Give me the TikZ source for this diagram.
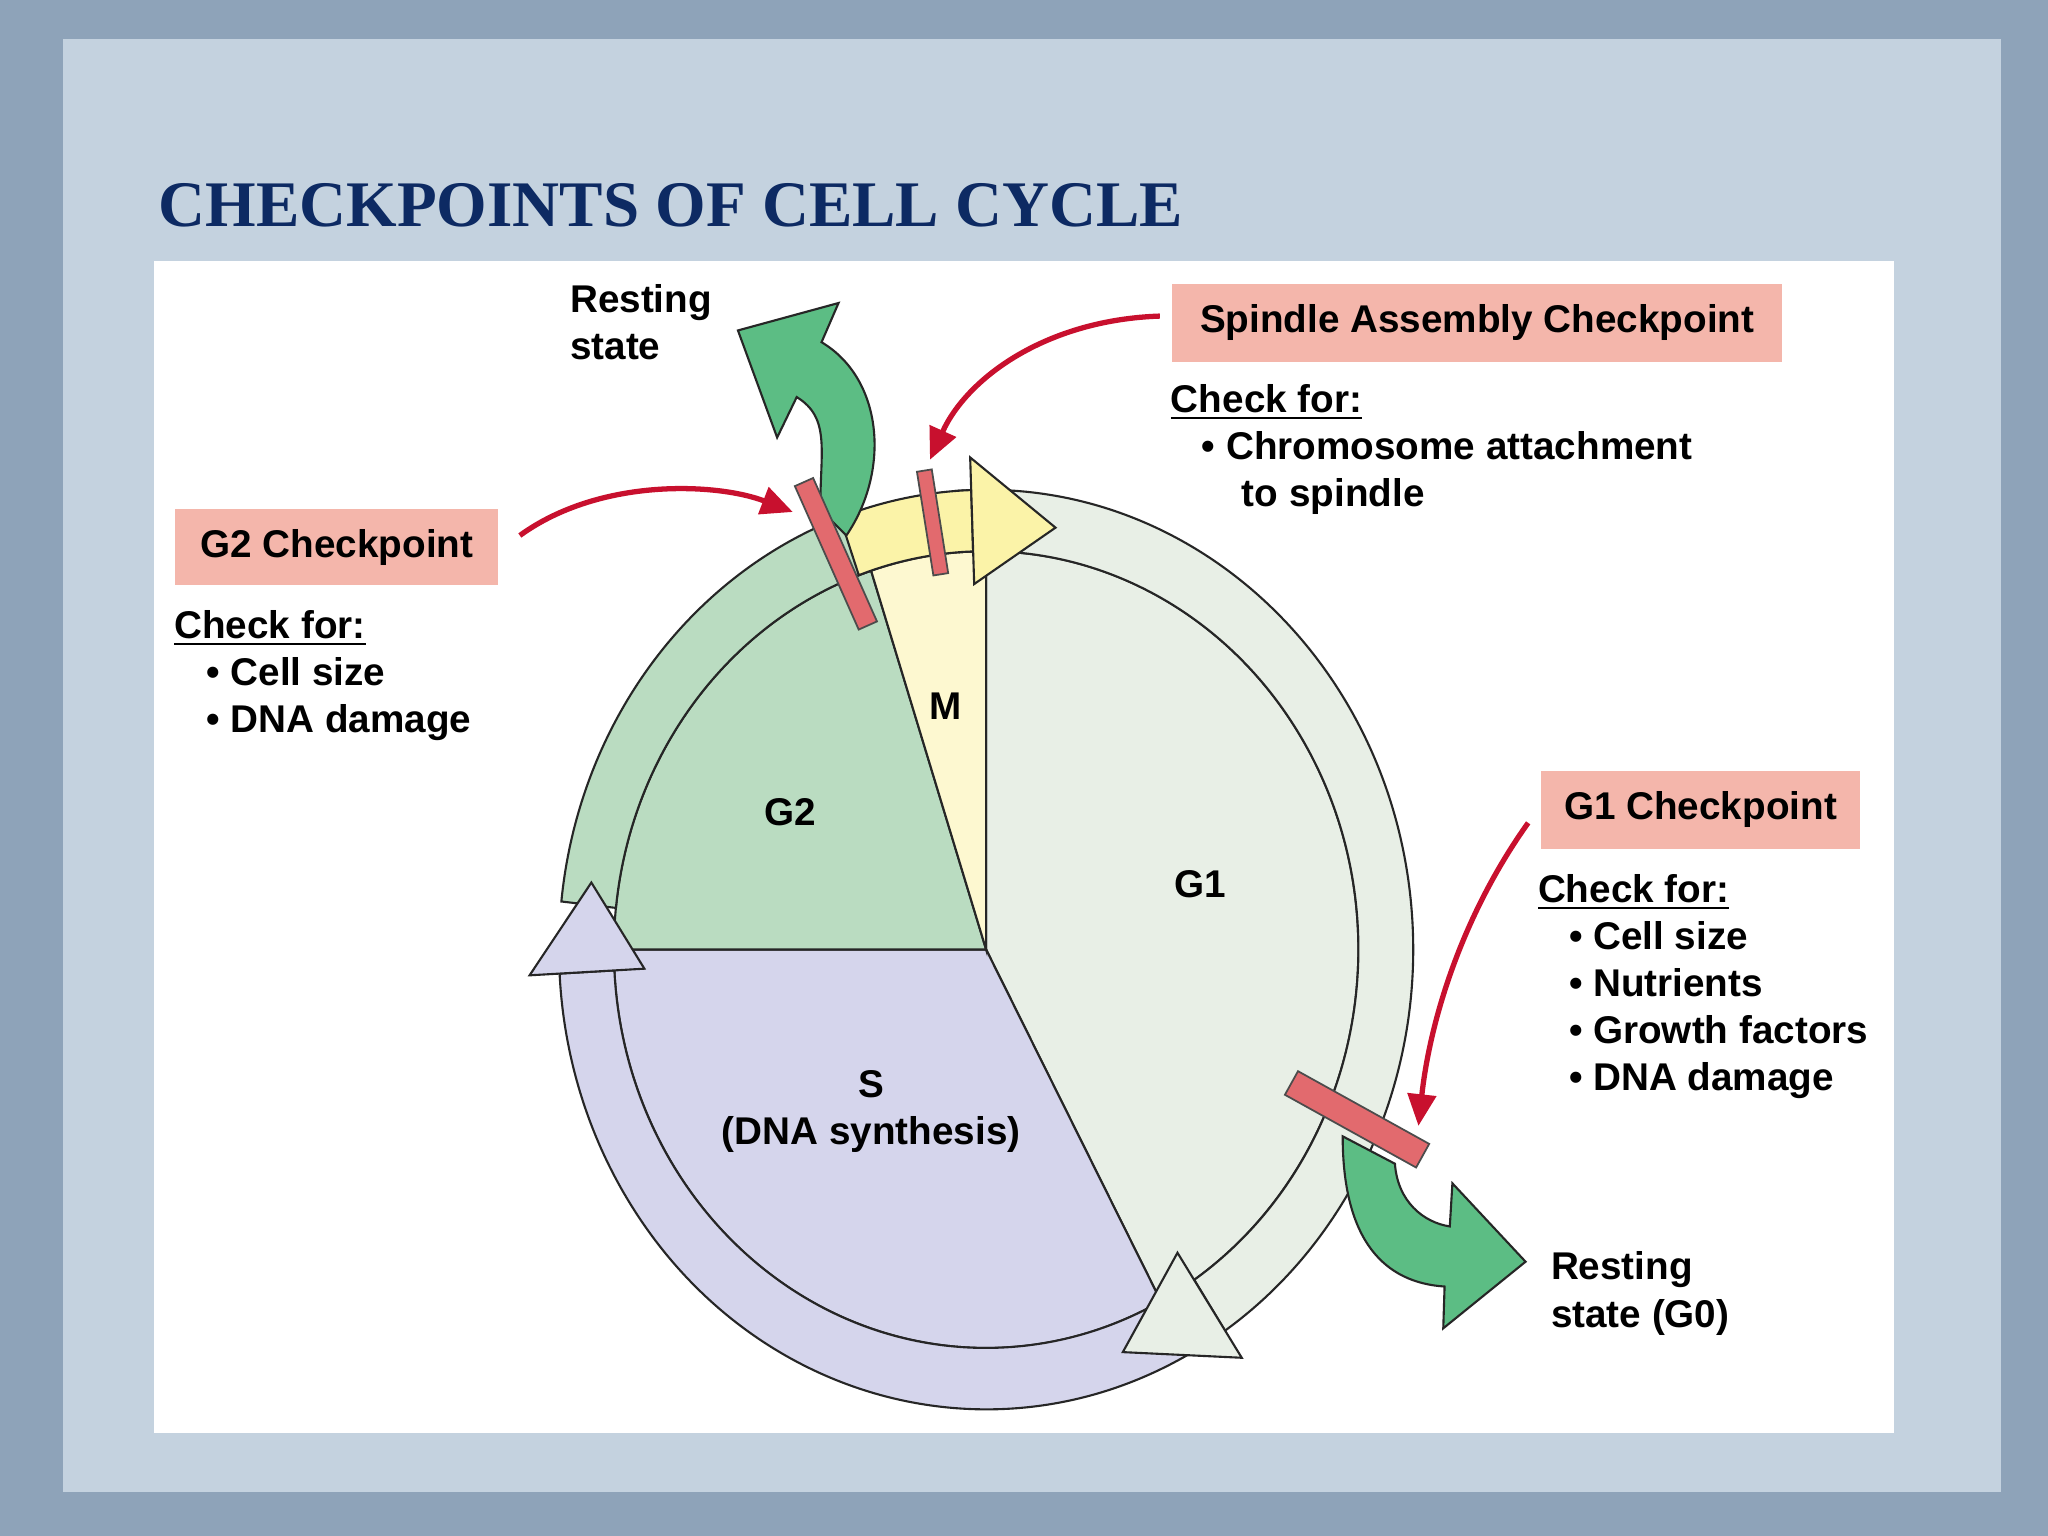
\documentclass[tikz,border=0pt]{standalone}
\usepackage{fontspec}
\setmainfont{Liberation Sans}
\newfontfamily\titlefont{Liberation Serif}
\usetikzlibrary{arrows.meta,positioning,calc}
\definecolor{slidebg}{HTML}{8EA3B9}
\definecolor{panelbg}{HTML}{C4D2DF}
\definecolor{titleblue}{HTML}{0D2A63}
\definecolor{boxpink}{HTML}{F4B6AB}
\definecolor{barred}{HTML}{E26A6E}
\definecolor{arrowred}{HTML}{C8102E}
\definecolor{gonefill}{HTML}{E8EFE6}
\definecolor{gtwofill}{HTML}{BADCC1}
\definecolor{mfill}{HTML}{FDF8D0}
\definecolor{sfill}{HTML}{D5D5EC}
\definecolor{restgreen}{HTML}{5CBD84}
\definecolor{ringyellow}{HTML}{FBF3A8}
\tikzset{
  outline/.style={draw=black!85, line width=0.6pt},
  checkbox/.style={fill=boxpink, inner sep=0pt, font=\fontsize{11}{13}\selectfont\bfseries},
  checklist/.style={anchor=north west, align=left, inner sep=0pt, font=\fontsize{11}{13.4}\selectfont\bfseries},
  phase/.style={font=\fontsize{11}{13.4}\selectfont\bfseries, align=center},
  checkbar/.style={draw=black!70, fill=barred, line width=0.5pt, inner sep=0pt},
  checkarrow/.style={draw=arrowred, line width=1.5pt, -{Triangle[length=9pt,width=8pt]}}
}
% annular segment of the cycle ring
\newcommand\ringseg[3]{%
  \filldraw[#1, outline] (755,727) ++(#2:327 and 352)
    arc[start angle=#2, end angle=#3, x radius=327, y radius=352]
    -- ($(755,727)+(#3:285 and 305)$)
    arc[start angle=#3, end angle=#2, x radius=285, y radius=305] -- cycle;}
\newcommand\ringhead[3]{%
  \filldraw[#1, outline] ($(755,727)+(#2:262 and 280)$) -- ($(755,727)+(#3:306 and 328)$)
    -- ($(755,727)+(#2:350 and 377)$) -- cycle;}
\newcommand\phasesector[3]{%
  \filldraw[#1, outline] (755,727) -- ++(#2:285 and 305)
    arc[start angle=#2, end angle=#3, x radius=285, y radius=305] -- cycle;}
\begin{document}
\begin{tikzpicture}[x=0.01306cm, y=-0.01306cm]
  % slide
  \fill[slidebg] (0,0) rectangle (1568,1176);
  \fill[panelbg] (48,30) rectangle (1532,1142);
  \fill[white] (118,200) rectangle (1450,1097);
  \node[anchor=west, inner sep=0pt, text=titleblue, font=\titlefont\bfseries\fontsize{18.5}{21}\selectfont] (title) at (121,157) {CHECKPOINTS OF CELL CYCLE};

  % phases
  \phasesector{gonefill}{270}{422}
  \phasesector{sfill}{62}{180}
  \phasesector{gtwofill}{180}{252}
  \phasesector{mfill}{252}{270}

  % ring
  \ringseg{sfill}{58}{177}
  \ringseg{gtwofill}{186}{252}
  \ringseg{gonefill}{266}{416}
  \ringhead{gonefill}{416}{430}
  \ringseg{ringyellow}{250}{268}
  \ringhead{ringyellow}{268}{280}
  \ringhead{sfill}{177}{189}

  % resting state arrows
  \filldraw[restgreen, outline] (648,410) .. controls (682,360) and (676,290) .. (629,262) -- (642,232) -- (565,253)
    -- (595,335) -- (610,304) .. controls (636,320) and (628,345) .. (628,390) -- cycle;
  \filldraw[restgreen, outline] (1028,870) -- (1068,891) .. controls (1070,920) and (1090,936) .. (1110,939)
    -- (1112,906) -- (1168,966) -- (1105,1017) -- (1106,985) .. controls (1060,982) and (1028,950) .. (1028,870) -- cycle;

  % checkpoint bars
  \node[checkbar, minimum width=1.57cm, minimum height=0.2cm, rotate=-66] (g2bar) at (640,424) {};
  \node[checkbar, minimum width=1.05cm, minimum height=0.15cm, rotate=-81] (mbar) at (714,400) {};
  \node[checkbar, minimum width=1.5cm, minimum height=0.27cm, rotate=-29] (g1bar) at (1039,857) {};

  % phase labels
  \node[phase] (G1) at (919,677) {G1};
  \node[phase] (G2) at (605,622) {G2};
  \node[phase] (M) at (724,541) {M};
  \node[phase] (S) at (667,851) {S\\(DNA synthesis)};
  \node[checklist] (rest1) at (436,217) {Resting\\state};
  \node[checklist] (rest2) at (1187,958) {Resting\\state (G0)};

  % checkpoint boxes
  \node[checkbox, minimum width=3.23cm, minimum height=0.76cm] (G2box) at (258,419) {G2 Checkpoint};
  \node[checkbox, minimum width=6.1cm, minimum height=0.78cm] (SPbox) at (1131,247) {Spindle Assembly Checkpoint};
  \node[checkbox, minimum width=3.19cm, minimum height=0.78cm] (G1box) at (1302,620) {G1 Checkpoint};
  \node[checklist] (G2list) at (133,467) {\underline{Check for:}\\\hspace{0.32cm}• Cell size\\\hspace{0.32cm}• DNA damage};
  \node[checklist] (SPlist) at (896,294) {\underline{Check for:}\\\hspace{0.31cm}• Chromosome attachment\\\hspace{0.71cm}to spindle};
  \node[checklist] (G1list) at (1177,669) {\underline{Check for:}\\\hspace{0.31cm}• Cell size\\\hspace{0.31cm}• Nutrients\\\hspace{0.31cm}• Growth factors\\\hspace{0.31cm}• DNA damage};

  % pointers
  \coordinate (g2tip) at (607,392);
  \coordinate (mtip) at (712,352);
  \coordinate (g1tip) at (1086,862);
  \draw[checkarrow] (398,410) .. controls (460,365) and (550,370) .. (g2tip);
  \draw[checkarrow] (888,242) .. controls (800,245) and (740,290) .. (mtip);
  \draw[checkarrow] (1170,630) .. controls (1120,700) and (1095,780) .. (g1tip);
\end{tikzpicture}
\end{document}
